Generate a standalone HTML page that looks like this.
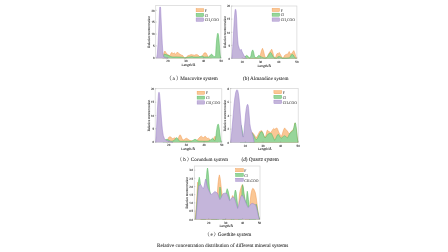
<!DOCTYPE html>
<html><head><meta charset="utf-8"><title>Relative concentration distribution of different mineral systems</title>
<style>
html,body{margin:0;padding:0;background:#fff;}
body{width:448px;height:252px;overflow:hidden;}
svg{display:block;}
text{font-family:"Liberation Serif","Noto Serif CJK SC",serif;fill:#222;text-rendering:geometricPrecision;}
.tk{font-size:32px;fill:#222;stroke:#222;stroke-width:0.7px;}
.yl{font-size:35px;fill:#222;stroke:#222;stroke-width:0.6px;}
.al{font-size:36px;fill:#222;stroke:#222;stroke-width:0.6px;}
.lg{font-size:38px;fill:#2a2a2a;stroke:#2a2a2a;stroke-width:0.3px;}
.cp{fill:#1a1a1a;stroke:#1a1a1a;stroke-width:0.5px;}
</style></head><body>
<svg width="448" height="252" viewBox="0 0 448 252">
<rect width="448" height="252" fill="#fff"/>
<polygon points="162.5,58.2 162.5,58.2 163.5,54.5 164.3,51.8 164.9,51.0 165.6,52.0 166.5,53.5 167.4,54.2 168.6,55.0 169.9,55.6 170.5,54.5 171.0,53.1 172.1,52.4 173.1,53.9 174.2,52.8 175.6,54.2 176.6,53.0 177.4,52.1 178.2,52.9 178.9,53.5 180.0,54.2 181.0,54.9 182.8,55.6 183.9,57.4 184.8,58.0 185.6,57.8 186.7,56.7 188.1,55.6 189.5,55.2 191.1,54.6 192.9,54.9 194.5,55.2 196.1,54.6 197.9,54.9 199.0,56.0 200.0,57.0 201.5,56.7 202.9,54.9 204.0,53.1 205.1,52.7 206.1,53.1 207.2,54.9 207.9,56.7 208.6,57.6 209.4,56.4 210.0,55.6 210.6,56.6 211.2,58.2 211.2,58.2" fill="#fac795" fill-opacity="1.0"/><polyline points="162.5,58.2 163.5,54.5 164.3,51.8 164.9,51.0 165.6,52.0 166.5,53.5 167.4,54.2 168.6,55.0 169.9,55.6 170.5,54.5 171.0,53.1 172.1,52.4 173.1,53.9 174.2,52.8 175.6,54.2 176.6,53.0 177.4,52.1 178.2,52.9 178.9,53.5 180.0,54.2 181.0,54.9 182.8,55.6 183.9,57.4 184.8,58.0 185.6,57.8 186.7,56.7 188.1,55.6 189.5,55.2 191.1,54.6 192.9,54.9 194.5,55.2 196.1,54.6 197.9,54.9 199.0,56.0 200.0,57.0 201.5,56.7 202.9,54.9 204.0,53.1 205.1,52.7 206.1,53.1 207.2,54.9 207.9,56.7 208.6,57.6 209.4,56.4 210.0,55.6 210.6,56.6 211.2,58.2" fill="none" stroke="#f19d55" stroke-width="0.55" stroke-linejoin="round" stroke-opacity="0.95"/>
<polygon points="163.0,58.2 163.0,58.2 163.6,55.5 164.2,54.2 166.0,54.6 168.1,55.3 170.3,56.4 172.0,56.9 174.0,57.0 176.0,56.9 178.0,57.0 180.0,57.1 182.0,57.2 184.0,57.7 185.5,57.8 187.0,57.3 189.0,57.0 191.0,56.8 192.0,56.6 193.5,57.0 196.0,57.1 198.5,57.0 200.5,56.6 201.9,56.0 203.0,56.6 204.5,57.1 206.5,56.9 208.5,57.0 209.7,56.2 210.6,55.0 211.5,54.0 212.4,54.8 213.6,56.4 214.8,56.8 215.6,55.5 216.0,48.0 216.7,39.0 217.4,34.0 217.9,33.2 218.4,34.5 219.0,40.0 219.7,49.0 220.2,55.0 220.7,58.2 220.7,58.2" fill="#97d59a" fill-opacity="1.0"/><polyline points="163.0,58.2 163.6,55.5 164.2,54.2 166.0,54.6 168.1,55.3 170.3,56.4 172.0,56.9 174.0,57.0 176.0,56.9 178.0,57.0 180.0,57.1 182.0,57.2 184.0,57.7 185.5,57.8 187.0,57.3 189.0,57.0 191.0,56.8 192.0,56.6 193.5,57.0 196.0,57.1 198.5,57.0 200.5,56.6 201.9,56.0 203.0,56.6 204.5,57.1 206.5,56.9 208.5,57.0 209.7,56.2 210.6,55.0 211.5,54.0 212.4,54.8 213.6,56.4 214.8,56.8 215.6,55.5 216.0,48.0 216.7,39.0 217.4,34.0 217.9,33.2 218.4,34.5 219.0,40.0 219.7,49.0 220.2,55.0 220.7,58.2" fill="none" stroke="#55ba60" stroke-width="0.55" stroke-linejoin="round" stroke-opacity="0.95"/>
<polygon points="156.6,58.2 156.6,58.2 157.3,54.0 158.0,44.0 158.7,30.0 159.3,16.0 159.7,8.0 159.9,7.0 160.3,7.0 160.6,8.0 161.0,17.0 161.6,30.0 162.3,44.0 163.0,54.0 163.8,57.0 165.0,57.6 168.0,58.2 168.0,58.2" fill="#c4b5da" fill-opacity="1.0"/><polyline points="156.6,58.2 157.3,54.0 158.0,44.0 158.7,30.0 159.3,16.0 159.7,8.0 159.9,7.0 160.3,7.0 160.6,8.0 161.0,17.0 161.6,30.0 162.3,44.0 163.0,54.0 163.8,57.0 165.0,57.6 168.0,58.2" fill="none" stroke="#9d82ca" stroke-width="0.55" stroke-linejoin="round" stroke-opacity="0.95"/>
<rect x="155.7" y="5.4" width="65.2" height="52.8" fill="none" stroke="#000" stroke-opacity="0.17" stroke-width="0.7"/>
<line x1="155.7" y1="10.3" x2="156.7" y2="10.3" stroke="#888" stroke-width="0.4"/>
<line x1="155.7" y1="22.0" x2="156.7" y2="22.0" stroke="#888" stroke-width="0.4"/>
<line x1="155.7" y1="34.1" x2="156.7" y2="34.1" stroke="#888" stroke-width="0.4"/>
<line x1="155.7" y1="45.9" x2="156.7" y2="45.9" stroke="#888" stroke-width="0.4"/>
<line x1="155.7" y1="57.8" x2="156.7" y2="57.8" stroke="#888" stroke-width="0.4"/>
<line x1="167.9" y1="58.2" x2="167.9" y2="57.2" stroke="#888" stroke-width="0.4"/>
<line x1="185.9" y1="58.2" x2="185.9" y2="57.2" stroke="#888" stroke-width="0.4"/>
<line x1="203.6" y1="58.2" x2="203.6" y2="57.2" stroke="#888" stroke-width="0.4"/>
<line x1="220.9" y1="58.2" x2="220.9" y2="57.2" stroke="#888" stroke-width="0.4"/>
<text transform="translate(154.60,11.55) scale(0.1)" text-anchor="end" class="tk">20</text>
<text transform="translate(154.60,23.25) scale(0.1)" text-anchor="end" class="tk">15</text>
<text transform="translate(154.60,35.35) scale(0.1)" text-anchor="end" class="tk">10</text>
<text transform="translate(154.60,47.15) scale(0.1)" text-anchor="end" class="tk">5</text>
<text transform="translate(154.60,59.05) scale(0.1)" text-anchor="end" class="tk">0</text>
<text transform="translate(167.90,62.40) scale(0.1)" text-anchor="middle" class="tk">20</text>
<text transform="translate(185.90,62.40) scale(0.1)" text-anchor="middle" class="tk">30</text>
<text transform="translate(203.60,62.40) scale(0.1)" text-anchor="middle" class="tk">40</text>
<text transform="translate(221.20,62.40) scale(0.1)" text-anchor="middle" class="tk">50</text>
<text transform="translate(188.40,65.90) scale(0.1)" text-anchor="middle" class="al">Length/Å</text>
<text transform="translate(150.20,31.90) rotate(-90) scale(0.1)" text-anchor="middle" class="yl">Relative concentration</text>
<rect x="196.1" y="8.6" width="7.6" height="3.2" fill="#fac795" stroke="#f19d55" stroke-width="0.4"/>
<text transform="translate(204.80,11.90) scale(0.1)" text-anchor="start" class="lg">F<tspan dy="-10" font-size="20">-</tspan></text>
<rect x="196.1" y="13.3" width="7.6" height="3.3" fill="#97d59a" stroke="#55ba60" stroke-width="0.4"/>
<text transform="translate(204.80,16.65) scale(0.1)" text-anchor="start" class="lg">Cl<tspan dy="-10" font-size="20">-</tspan></text>
<rect x="196.1" y="17.9" width="7.6" height="3.4" fill="#c4b5da" stroke="#9d82ca" stroke-width="0.4"/>
<text transform="translate(204.80,21.30) scale(0.1)" text-anchor="start" class="lg">CH<tspan dy="7" font-size="20">3</tspan><tspan dy="-7">COO</tspan><tspan dy="-10" font-size="20">-</tspan></text>
<polygon points="243.0,58.4 243.0,58.4 245.0,56.8 247.0,56.0 248.5,57.5 250.0,58.4 255.2,58.4 256.0,57.1 256.8,58.4 259.3,58.4 260.3,55.0 261.5,50.5 262.5,48.3 263.5,51.0 264.6,55.5 265.6,58.2 266.8,57.8 268.0,55.0 269.5,52.5 270.8,50.5 271.7,49.2 272.6,51.5 273.6,55.5 274.6,58.2 275.6,57.5 276.5,54.5 277.5,53.2 278.3,54.2 279.2,52.4 280.0,53.8 281.0,55.5 282.2,58.0 283.5,57.8 284.5,55.5 286.0,54.4 287.5,54.2 288.4,53.0 289.2,51.5 290.0,53.5 291.0,54.2 292.4,52.5 293.8,50.6 294.8,53.0 295.8,56.5 296.6,58.4 296.6,58.4" fill="#fac795" fill-opacity="1.0"/><polyline points="243.0,58.4 245.0,56.8 247.0,56.0 248.5,57.5 250.0,58.4 255.2,58.4 256.0,57.1 256.8,58.4 259.3,58.4 260.3,55.0 261.5,50.5 262.5,48.3 263.5,51.0 264.6,55.5 265.6,58.2 266.8,57.8 268.0,55.0 269.5,52.5 270.8,50.5 271.7,49.2 272.6,51.5 273.6,55.5 274.6,58.2 275.6,57.5 276.5,54.5 277.5,53.2 278.3,54.2 279.2,52.4 280.0,53.8 281.0,55.5 282.2,58.0 283.5,57.8 284.5,55.5 286.0,54.4 287.5,54.2 288.4,53.0 289.2,51.5 290.0,53.5 291.0,54.2 292.4,52.5 293.8,50.6 294.8,53.0 295.8,56.5 296.6,58.4" fill="none" stroke="#f19d55" stroke-width="0.55" stroke-linejoin="round" stroke-opacity="0.95"/>
<polygon points="244.0,58.4 244.0,58.4 245.2,56.5 246.5,55.4 247.8,56.0 249.0,57.9 250.3,57.6 251.0,55.5 251.8,51.5 252.7,49.9 253.5,51.5 254.2,55.0 254.9,57.6 256.5,57.9 257.6,56.4 258.9,55.3 260.0,56.2 261.4,56.9 263.0,57.7 265.0,58.0 267.0,57.5 268.3,55.5 269.5,53.4 270.5,52.4 271.5,53.5 272.8,56.0 274.0,57.8 276.5,58.0 278.0,56.8 279.2,56.4 280.5,57.0 282.0,58.0 286.0,58.1 289.6,57.8 290.6,56.0 291.6,54.6 292.4,54.3 293.3,55.0 294.3,56.8 295.3,58.0 296.5,58.4 296.5,58.4" fill="#97d59a" fill-opacity="1.0"/><polyline points="244.0,58.4 245.2,56.5 246.5,55.4 247.8,56.0 249.0,57.9 250.3,57.6 251.0,55.5 251.8,51.5 252.7,49.9 253.5,51.5 254.2,55.0 254.9,57.6 256.5,57.9 257.6,56.4 258.9,55.3 260.0,56.2 261.4,56.9 263.0,57.7 265.0,58.0 267.0,57.5 268.3,55.5 269.5,53.4 270.5,52.4 271.5,53.5 272.8,56.0 274.0,57.8 276.5,58.0 278.0,56.8 279.2,56.4 280.5,57.0 282.0,58.0 286.0,58.1 289.6,57.8 290.6,56.0 291.6,54.6 292.4,54.3 293.3,55.0 294.3,56.8 295.3,58.0 296.5,58.4" fill="none" stroke="#55ba60" stroke-width="0.55" stroke-linejoin="round" stroke-opacity="0.95"/>
<polygon points="231.8,58.4 231.8,58.4 232.4,52.0 233.0,43.0 233.7,30.0 234.4,18.0 235.0,11.0 235.3,9.4 235.7,9.4 236.1,11.0 236.6,18.0 237.0,27.0 237.4,36.0 238.2,45.1 239.4,48.8 240.3,50.4 241.2,49.3 242.2,52.0 243.2,54.0 244.0,55.6 245.4,57.5 246.5,58.4 246.5,58.4" fill="#c4b5da" fill-opacity="1.0"/><polyline points="231.8,58.4 232.4,52.0 233.0,43.0 233.7,30.0 234.4,18.0 235.0,11.0 235.3,9.4 235.7,9.4 236.1,11.0 236.6,18.0 237.0,27.0 237.4,36.0 238.2,45.1 239.4,48.8 240.3,50.4 241.2,49.3 242.2,52.0 243.2,54.0 244.0,55.6 245.4,57.5 246.5,58.4" fill="none" stroke="#9d82ca" stroke-width="0.55" stroke-linejoin="round" stroke-opacity="0.95"/>
<rect x="231.3" y="6.0" width="65.6" height="52.4" fill="none" stroke="#000" stroke-opacity="0.17" stroke-width="0.7"/>
<line x1="231.3" y1="6.0" x2="232.3" y2="6.0" stroke="#888" stroke-width="0.4"/>
<line x1="231.3" y1="19.1" x2="232.3" y2="19.1" stroke="#888" stroke-width="0.4"/>
<line x1="231.3" y1="32.3" x2="232.3" y2="32.3" stroke="#888" stroke-width="0.4"/>
<line x1="231.3" y1="45.4" x2="232.3" y2="45.4" stroke="#888" stroke-width="0.4"/>
<line x1="231.3" y1="58.4" x2="232.3" y2="58.4" stroke="#888" stroke-width="0.4"/>
<line x1="242.3" y1="58.4" x2="242.3" y2="57.4" stroke="#888" stroke-width="0.4"/>
<line x1="260.5" y1="58.4" x2="260.5" y2="57.4" stroke="#888" stroke-width="0.4"/>
<line x1="278.7" y1="58.4" x2="278.7" y2="57.4" stroke="#888" stroke-width="0.4"/>
<line x1="296.9" y1="58.4" x2="296.9" y2="57.4" stroke="#888" stroke-width="0.4"/>
<text transform="translate(230.20,7.15) scale(0.1)" text-anchor="end" class="tk">20</text>
<text transform="translate(230.20,20.35) scale(0.1)" text-anchor="end" class="tk">15</text>
<text transform="translate(230.20,33.55) scale(0.1)" text-anchor="end" class="tk">10</text>
<text transform="translate(230.20,46.65) scale(0.1)" text-anchor="end" class="tk">5</text>
<text transform="translate(230.20,59.65) scale(0.1)" text-anchor="end" class="tk">0</text>
<text transform="translate(242.30,63.40) scale(0.1)" text-anchor="middle" class="tk">20</text>
<text transform="translate(260.50,63.40) scale(0.1)" text-anchor="middle" class="tk">30</text>
<text transform="translate(278.70,63.40) scale(0.1)" text-anchor="middle" class="tk">40</text>
<text transform="translate(296.90,63.40) scale(0.1)" text-anchor="middle" class="tk">50</text>
<text transform="translate(264.30,67.00) scale(0.1)" text-anchor="middle" class="al">Length/Å</text>
<text transform="translate(225.80,31.90) rotate(-90) scale(0.1)" text-anchor="middle" class="yl">Relative concentration</text>
<rect x="272.1" y="8.3" width="7.5" height="3.3" fill="#fac795" stroke="#f19d55" stroke-width="0.4"/>
<text transform="translate(280.70,11.65) scale(0.1)" text-anchor="start" class="lg">F<tspan dy="-10" font-size="20">-</tspan></text>
<rect x="272.1" y="13.1" width="7.5" height="3.1" fill="#97d59a" stroke="#55ba60" stroke-width="0.4"/>
<text transform="translate(280.70,16.35) scale(0.1)" text-anchor="start" class="lg">Cl<tspan dy="-10" font-size="20">-</tspan></text>
<rect x="272.1" y="17.9" width="7.5" height="3.3" fill="#c4b5da" stroke="#9d82ca" stroke-width="0.4"/>
<text transform="translate(280.70,21.25) scale(0.1)" text-anchor="start" class="lg">CH<tspan dy="7" font-size="20">3</tspan><tspan dy="-7">COO</tspan><tspan dy="-10" font-size="20">-</tspan></text>
<polygon points="166.5,142.3 166.5,142.3 167.6,139.7 168.7,137.4 169.9,136.7 171.1,137.2 172.3,138.7 173.4,138.4 174.9,137.7 176.0,138.7 177.6,139.8 178.5,137.8 179.3,135.8 180.1,134.8 180.9,135.8 181.8,138.0 182.7,140.0 184.0,139.8 185.3,138.7 186.3,138.2 187.5,138.8 189.0,140.0 191.0,140.8 193.0,141.0 196.0,140.8 197.5,139.8 199.0,138.0 200.2,136.8 201.4,136.2 202.5,137.2 203.6,137.7 204.4,136.7 205.1,136.2 206.0,137.0 207.0,138.4 208.0,138.4 208.7,138.2 209.6,139.0 210.6,140.2 212.0,140.4 213.3,139.3 214.3,137.2 215.1,136.2 215.8,137.3 216.5,139.8 217.5,142.3 217.5,142.3" fill="#fac795" fill-opacity="1.0"/><polyline points="166.5,142.3 167.6,139.7 168.7,137.4 169.9,136.7 171.1,137.2 172.3,138.7 173.4,138.4 174.9,137.7 176.0,138.7 177.6,139.8 178.5,137.8 179.3,135.8 180.1,134.8 180.9,135.8 181.8,138.0 182.7,140.0 184.0,139.8 185.3,138.7 186.3,138.2 187.5,138.8 189.0,140.0 191.0,140.8 193.0,141.0 196.0,140.8 197.5,139.8 199.0,138.0 200.2,136.8 201.4,136.2 202.5,137.2 203.6,137.7 204.4,136.7 205.1,136.2 206.0,137.0 207.0,138.4 208.0,138.4 208.7,138.2 209.6,139.0 210.6,140.2 212.0,140.4 213.3,139.3 214.3,137.2 215.1,136.2 215.8,137.3 216.5,139.8 217.5,142.3" fill="none" stroke="#f19d55" stroke-width="0.55" stroke-linejoin="round" stroke-opacity="0.95"/>
<polygon points="163.5,142.3 163.5,142.3 164.6,140.6 165.6,139.6 167.0,139.4 168.4,139.8 170.0,141.0 172.0,141.2 174.0,140.6 175.6,138.6 176.7,137.5 177.7,138.6 178.7,140.4 180.0,141.2 182.0,141.3 184.0,141.2 186.0,141.3 188.0,141.2 190.0,141.3 192.0,141.0 193.6,140.0 195.0,139.2 196.2,139.8 197.5,140.8 199.0,141.2 202.0,141.2 205.0,141.3 208.0,141.2 210.0,140.6 211.4,139.2 212.4,138.3 213.3,139.0 214.3,140.6 215.2,140.4 215.8,137.0 216.5,131.0 217.2,126.5 217.8,124.4 218.2,124.1 218.7,125.0 219.3,129.0 220.0,135.0 220.7,139.6 221.4,142.3 221.4,142.3" fill="#97d59a" fill-opacity="1.0"/><polyline points="163.5,142.3 164.6,140.6 165.6,139.6 167.0,139.4 168.4,139.8 170.0,141.0 172.0,141.2 174.0,140.6 175.6,138.6 176.7,137.5 177.7,138.6 178.7,140.4 180.0,141.2 182.0,141.3 184.0,141.2 186.0,141.3 188.0,141.2 190.0,141.3 192.0,141.0 193.6,140.0 195.0,139.2 196.2,139.8 197.5,140.8 199.0,141.2 202.0,141.2 205.0,141.3 208.0,141.2 210.0,140.6 211.4,139.2 212.4,138.3 213.3,139.0 214.3,140.6 215.2,140.4 215.8,137.0 216.5,131.0 217.2,126.5 217.8,124.4 218.2,124.1 218.7,125.0 219.3,129.0 220.0,135.0 220.7,139.6 221.4,142.3" fill="none" stroke="#55ba60" stroke-width="0.55" stroke-linejoin="round" stroke-opacity="0.95"/>
<polygon points="155.7,142.3 155.7,142.3 156.2,135.0 156.8,123.0 157.4,110.0 158.0,100.0 158.5,93.5 158.8,92.4 159.2,92.4 159.5,93.5 160.1,100.0 160.8,110.0 161.6,121.0 162.4,130.0 163.3,135.5 164.4,138.6 165.8,140.2 167.5,141.0 170.0,141.6 173.0,142.3 173.0,142.3" fill="#c4b5da" fill-opacity="1.0"/><polyline points="155.7,142.3 156.2,135.0 156.8,123.0 157.4,110.0 158.0,100.0 158.5,93.5 158.8,92.4 159.2,92.4 159.5,93.5 160.1,100.0 160.8,110.0 161.6,121.0 162.4,130.0 163.3,135.5 164.4,138.6 165.8,140.2 167.5,141.0 170.0,141.6 173.0,142.3" fill="none" stroke="#9d82ca" stroke-width="0.55" stroke-linejoin="round" stroke-opacity="0.95"/>
<rect x="155.2" y="88.7" width="66.6" height="53.6" fill="none" stroke="#000" stroke-opacity="0.17" stroke-width="0.7"/>
<line x1="155.2" y1="88.8" x2="156.2" y2="88.8" stroke="#888" stroke-width="0.4"/>
<line x1="155.2" y1="102.2" x2="156.2" y2="102.2" stroke="#888" stroke-width="0.4"/>
<line x1="155.2" y1="115.6" x2="156.2" y2="115.6" stroke="#888" stroke-width="0.4"/>
<line x1="155.2" y1="128.8" x2="156.2" y2="128.8" stroke="#888" stroke-width="0.4"/>
<line x1="155.2" y1="142.2" x2="156.2" y2="142.2" stroke="#888" stroke-width="0.4"/>
<line x1="168.7" y1="142.3" x2="168.7" y2="141.3" stroke="#888" stroke-width="0.4"/>
<line x1="186.4" y1="142.3" x2="186.4" y2="141.3" stroke="#888" stroke-width="0.4"/>
<line x1="204.1" y1="142.3" x2="204.1" y2="141.3" stroke="#888" stroke-width="0.4"/>
<line x1="221.8" y1="142.3" x2="221.8" y2="141.3" stroke="#888" stroke-width="0.4"/>
<text transform="translate(154.10,90.05) scale(0.1)" text-anchor="end" class="tk">20</text>
<text transform="translate(154.10,103.45) scale(0.1)" text-anchor="end" class="tk">15</text>
<text transform="translate(154.10,116.85) scale(0.1)" text-anchor="end" class="tk">10</text>
<text transform="translate(154.10,130.05) scale(0.1)" text-anchor="end" class="tk">5</text>
<text transform="translate(154.10,143.45) scale(0.1)" text-anchor="end" class="tk">0</text>
<text transform="translate(168.70,146.10) scale(0.1)" text-anchor="middle" class="tk">20</text>
<text transform="translate(186.40,146.10) scale(0.1)" text-anchor="middle" class="tk">30</text>
<text transform="translate(204.10,146.10) scale(0.1)" text-anchor="middle" class="tk">40</text>
<text transform="translate(221.80,146.10) scale(0.1)" text-anchor="middle" class="tk">50</text>
<text transform="translate(188.10,149.90) scale(0.1)" text-anchor="middle" class="al">Length/Å</text>
<text transform="translate(149.70,115.50) rotate(-90) scale(0.1)" text-anchor="middle" class="yl">Relative concentration</text>
<rect x="197.1" y="91.2" width="7.6" height="3.1" fill="#fac795" stroke="#f19d55" stroke-width="0.4"/>
<text transform="translate(206.00,94.45) scale(0.1)" text-anchor="start" class="lg">F<tspan dy="-10" font-size="20">-</tspan></text>
<rect x="197.1" y="96.1" width="7.6" height="3.0" fill="#97d59a" stroke="#55ba60" stroke-width="0.4"/>
<text transform="translate(206.00,99.30) scale(0.1)" text-anchor="start" class="lg">Cl<tspan dy="-10" font-size="20">-</tspan></text>
<rect x="197.1" y="100.8" width="7.6" height="3.3" fill="#c4b5da" stroke="#9d82ca" stroke-width="0.4"/>
<text transform="translate(206.00,104.15) scale(0.1)" text-anchor="start" class="lg">CH<tspan dy="7" font-size="20">3</tspan><tspan dy="-7">COO</tspan><tspan dy="-10" font-size="20">-</tspan></text>
<polygon points="250.0,142.4 250.0,142.4 251.5,134.0 252.5,132.5 254.0,134.5 255.2,136.4 256.3,137.5 257.4,136.0 258.6,133.5 259.6,131.6 260.4,131.1 261.8,130.7 262.8,132.5 263.8,135.5 265.0,138.0 266.0,135.0 266.8,131.5 267.3,130.2 268.2,130.8 269.2,131.8 270.2,132.4 271.0,132.5 271.8,131.0 272.8,129.4 273.7,128.4 274.5,129.2 275.3,128.8 276.1,128.4 276.9,127.9 277.6,129.2 278.5,131.5 279.6,133.9 280.6,135.4 281.5,136.2 282.3,134.0 283.2,131.0 284.0,129.0 284.7,127.9 285.4,129.0 286.4,130.0 287.4,131.1 288.3,132.6 289.2,133.9 290.2,132.8 291.3,131.2 292.4,130.2 293.2,130.4 294.0,128.0 295.0,123.0 296.0,128.0 297.0,136.0 297.9,142.4 297.9,142.4" fill="#fac795" fill-opacity="1.0"/><polyline points="250.0,142.4 251.5,134.0 252.5,132.5 254.0,134.5 255.2,136.4 256.3,137.5 257.4,136.0 258.6,133.5 259.6,131.6 260.4,131.1 261.8,130.7 262.8,132.5 263.8,135.5 265.0,138.0 266.0,135.0 266.8,131.5 267.3,130.2 268.2,130.8 269.2,131.8 270.2,132.4 271.0,132.5 271.8,131.0 272.8,129.4 273.7,128.4 274.5,129.2 275.3,128.8 276.1,128.4 276.9,127.9 277.6,129.2 278.5,131.5 279.6,133.9 280.6,135.4 281.5,136.2 282.3,134.0 283.2,131.0 284.0,129.0 284.7,127.9 285.4,129.0 286.4,130.0 287.4,131.1 288.3,132.6 289.2,133.9 290.2,132.8 291.3,131.2 292.4,130.2 293.2,130.4 294.0,128.0 295.0,123.0 296.0,128.0 297.0,136.0 297.9,142.4" fill="none" stroke="#f19d55" stroke-width="0.55" stroke-linejoin="round" stroke-opacity="0.95"/>
<polygon points="240.5,142.4 240.5,142.4 240.8,125.0 241.5,126.5 242.3,131.0 243.1,136.0 244.0,137.5 246.0,140.0 250.0,141.0 251.6,135.5 252.2,133.0 253.2,134.6 254.4,136.8 255.4,138.8 256.3,139.8 257.4,138.6 258.6,136.0 259.8,133.6 260.9,132.0 261.8,131.6 262.8,133.0 263.8,135.6 265.0,138.0 265.8,137.2 267.0,135.4 268.2,134.0 269.1,133.4 270.3,133.6 271.4,133.4 272.4,135.4 273.5,138.0 274.6,140.3 275.6,138.8 276.8,136.2 277.6,134.8 278.3,134.3 279.2,135.4 280.2,137.2 281.0,138.4 282.0,137.6 283.4,136.4 284.7,135.7 285.6,136.2 286.6,137.4 287.4,138.0 288.4,136.2 289.4,134.0 290.1,133.0 291.2,132.0 292.4,131.1 293.2,130.2 293.9,127.4 294.6,124.0 295.2,122.7 295.8,124.5 296.5,130.0 297.2,137.0 297.9,142.4 297.9,142.4" fill="#97d59a" fill-opacity="1.0"/><polyline points="240.5,142.4 240.8,125.0 241.5,126.5 242.3,131.0 243.1,136.0 244.0,137.5 246.0,140.0 250.0,141.0 251.6,135.5 252.2,133.0 253.2,134.6 254.4,136.8 255.4,138.8 256.3,139.8 257.4,138.6 258.6,136.0 259.8,133.6 260.9,132.0 261.8,131.6 262.8,133.0 263.8,135.6 265.0,138.0 265.8,137.2 267.0,135.4 268.2,134.0 269.1,133.4 270.3,133.6 271.4,133.4 272.4,135.4 273.5,138.0 274.6,140.3 275.6,138.8 276.8,136.2 277.6,134.8 278.3,134.3 279.2,135.4 280.2,137.2 281.0,138.4 282.0,137.6 283.4,136.4 284.7,135.7 285.6,136.2 286.6,137.4 287.4,138.0 288.4,136.2 289.4,134.0 290.1,133.0 291.2,132.0 292.4,131.1 293.2,130.2 293.9,127.4 294.6,124.0 295.2,122.7 295.8,124.5 296.5,130.0 297.2,137.0 297.9,142.4" fill="none" stroke="#55ba60" stroke-width="0.55" stroke-linejoin="round" stroke-opacity="0.95"/>
<polygon points="230.6,142.4 230.6,142.4 231.2,138.0 231.9,130.0 232.6,122.0 233.3,114.0 234.0,105.0 234.8,98.0 235.7,92.5 236.5,90.2 237.1,89.7 237.7,90.4 238.4,93.5 239.1,99.0 239.7,106.0 240.3,114.0 240.9,121.0 241.5,127.0 242.1,132.0 242.6,135.5 243.1,137.1 243.6,135.5 244.2,130.0 244.9,122.0 245.6,114.0 246.3,108.5 247.0,105.2 247.6,104.3 248.1,105.2 248.6,108.5 249.2,116.0 249.8,123.5 250.5,128.0 251.4,131.0 252.3,133.6 253.0,136.0 253.6,139.0 254.2,142.4 254.2,142.4" fill="#c4b5da" fill-opacity="1.0"/><polyline points="230.6,142.4 231.2,138.0 231.9,130.0 232.6,122.0 233.3,114.0 234.0,105.0 234.8,98.0 235.7,92.5 236.5,90.2 237.1,89.7 237.7,90.4 238.4,93.5 239.1,99.0 239.7,106.0 240.3,114.0 240.9,121.0 241.5,127.0 242.1,132.0 242.6,135.5 243.1,137.1 243.6,135.5 244.2,130.0 244.9,122.0 245.6,114.0 246.3,108.5 247.0,105.2 247.6,104.3 248.1,105.2 248.6,108.5 249.2,116.0 249.8,123.5 250.5,128.0 251.4,131.0 252.3,133.6 253.0,136.0 253.6,139.0 254.2,142.4" fill="none" stroke="#9d82ca" stroke-width="0.55" stroke-linejoin="round" stroke-opacity="0.95"/>
<rect x="230.3" y="88.6" width="67.9" height="53.8" fill="none" stroke="#000" stroke-opacity="0.17" stroke-width="0.7"/>
<line x1="230.3" y1="88.6" x2="231.3" y2="88.6" stroke="#888" stroke-width="0.4"/>
<line x1="230.3" y1="102.2" x2="231.3" y2="102.2" stroke="#888" stroke-width="0.4"/>
<line x1="230.3" y1="115.6" x2="231.3" y2="115.6" stroke="#888" stroke-width="0.4"/>
<line x1="230.3" y1="129.1" x2="231.3" y2="129.1" stroke="#888" stroke-width="0.4"/>
<line x1="230.3" y1="142.4" x2="231.3" y2="142.4" stroke="#888" stroke-width="0.4"/>
<line x1="245.4" y1="142.4" x2="245.4" y2="141.4" stroke="#888" stroke-width="0.4"/>
<line x1="263.0" y1="142.4" x2="263.0" y2="141.4" stroke="#888" stroke-width="0.4"/>
<line x1="280.6" y1="142.4" x2="280.6" y2="141.4" stroke="#888" stroke-width="0.4"/>
<line x1="298.2" y1="142.4" x2="298.2" y2="141.4" stroke="#888" stroke-width="0.4"/>
<text transform="translate(229.20,89.85) scale(0.1)" text-anchor="end" class="tk">8</text>
<text transform="translate(229.20,103.45) scale(0.1)" text-anchor="end" class="tk">6</text>
<text transform="translate(229.20,116.85) scale(0.1)" text-anchor="end" class="tk">4</text>
<text transform="translate(229.20,130.35) scale(0.1)" text-anchor="end" class="tk">2</text>
<text transform="translate(229.20,143.85) scale(0.1)" text-anchor="end" class="tk">0</text>
<text transform="translate(245.40,146.60) scale(0.1)" text-anchor="middle" class="tk">20</text>
<text transform="translate(263.00,146.60) scale(0.1)" text-anchor="middle" class="tk">30</text>
<text transform="translate(280.60,146.60) scale(0.1)" text-anchor="middle" class="tk">40</text>
<text transform="translate(298.20,146.60) scale(0.1)" text-anchor="middle" class="tk">50</text>
<text transform="translate(264.80,150.40) scale(0.1)" text-anchor="middle" class="al">Length/Å</text>
<text transform="translate(225.90,115.50) rotate(-90) scale(0.1)" text-anchor="middle" class="yl">Relative concentration</text>
<rect x="273.9" y="90.6" width="7.8" height="3.2" fill="#fac795" stroke="#f19d55" stroke-width="0.4"/>
<text transform="translate(282.80,93.90) scale(0.1)" text-anchor="start" class="lg">F<tspan dy="-10" font-size="20">-</tspan></text>
<rect x="273.9" y="95.3" width="7.8" height="3.3" fill="#97d59a" stroke="#55ba60" stroke-width="0.4"/>
<text transform="translate(282.80,98.65) scale(0.1)" text-anchor="start" class="lg">Cl<tspan dy="-10" font-size="20">-</tspan></text>
<rect x="273.9" y="100.1" width="7.8" height="3.5" fill="#c4b5da" stroke="#9d82ca" stroke-width="0.4"/>
<text transform="translate(282.80,103.55) scale(0.1)" text-anchor="start" class="lg">CH<tspan dy="7" font-size="20">3</tspan><tspan dy="-7">COO</tspan><tspan dy="-10" font-size="20">-</tspan></text>
<polygon points="195.2,219.3 195.2,219.3 196.0,210.0 196.7,200.0 197.2,190.0 197.7,182.2 198.4,184.0 199.0,188.0 200.0,219.3 217.0,219.3 217.4,192.0 218.0,184.0 218.7,178.0 219.4,174.9 220.1,178.0 220.8,184.0 221.6,191.0 222.4,196.0 223.0,219.3 231.5,219.3 232.0,197.0 232.7,195.5 233.4,197.0 234.0,219.3 238.4,219.3 238.9,202.0 239.4,195.0 240.0,191.4 240.8,188.5 241.6,186.0 242.3,184.6 243.0,186.5 243.8,193.0 244.5,198.0 245.0,219.3 249.6,219.3 250.2,201.0 251.0,194.0 251.9,190.0 252.8,188.2 253.7,189.0 254.6,190.8 255.4,193.0 256.2,197.5 256.9,203.0 257.6,209.0 258.4,215.0 259.2,219.3 259.2,219.3" fill="#fac795" fill-opacity="1.0"/><polyline points="195.2,219.3 196.0,210.0 196.7,200.0 197.2,190.0 197.7,182.2 198.4,184.0 199.0,188.0 200.0,219.3 217.0,219.3 217.4,192.0 218.0,184.0 218.7,178.0 219.4,174.9 220.1,178.0 220.8,184.0 221.6,191.0 222.4,196.0 223.0,219.3 231.5,219.3 232.0,197.0 232.7,195.5 233.4,197.0 234.0,219.3 238.4,219.3 238.9,202.0 239.4,195.0 240.0,191.4 240.8,188.5 241.6,186.0 242.3,184.6 243.0,186.5 243.8,193.0 244.5,198.0 245.0,219.3 249.6,219.3 250.2,201.0 251.0,194.0 251.9,190.0 252.8,188.2 253.7,189.0 254.6,190.8 255.4,193.0 256.2,197.5 256.9,203.0 257.6,209.0 258.4,215.0 259.2,219.3" fill="none" stroke="#f19d55" stroke-width="0.55" stroke-linejoin="round" stroke-opacity="0.95"/>
<polygon points="195.6,219.3 195.6,219.3 196.4,210.0 197.1,200.0 197.8,190.0 198.5,181.0 199.3,177.2 199.9,180.0 200.5,185.0 201.5,219.3 205.5,219.3 206.0,184.0 206.5,176.0 207.0,170.5 207.5,168.0 208.0,170.5 208.5,176.0 209.0,183.0 209.6,190.0 210.5,194.0 211.5,219.3 218.6,219.3 219.0,196.0 219.5,190.0 220.0,187.0 220.6,190.0 221.2,196.0 221.8,199.5 222.5,219.3 225.5,219.3 226.0,194.0 226.6,190.5 227.2,188.7 228.1,191.0 229.0,195.0 229.9,199.5 230.6,201.0 231.2,219.3 234.0,219.3 234.4,196.0 234.9,191.5 235.4,190.0 236.1,192.0 236.8,198.0 237.5,204.0 238.1,208.4 238.6,219.3 241.5,219.3 242.0,189.0 242.6,184.7 243.3,187.5 243.9,193.0 244.5,196.4 245.2,200.0 246.0,203.5 246.6,199.0 246.9,193.5 247.3,191.2 247.8,193.8 248.4,199.5 249.0,203.5 249.4,219.3 255.5,219.3 256.0,204.0 256.8,206.0 257.6,210.0 258.5,215.0 259.5,219.3 259.5,219.3" fill="#97d59a" fill-opacity="1.0"/><polyline points="195.6,219.3 196.4,210.0 197.1,200.0 197.8,190.0 198.5,181.0 199.3,177.2 199.9,180.0 200.5,185.0 201.5,219.3 205.5,219.3 206.0,184.0 206.5,176.0 207.0,170.5 207.5,168.0 208.0,170.5 208.5,176.0 209.0,183.0 209.6,190.0 210.5,194.0 211.5,219.3 218.6,219.3 219.0,196.0 219.5,190.0 220.0,187.0 220.6,190.0 221.2,196.0 221.8,199.5 222.5,219.3 225.5,219.3 226.0,194.0 226.6,190.5 227.2,188.7 228.1,191.0 229.0,195.0 229.9,199.5 230.6,201.0 231.2,219.3 234.0,219.3 234.4,196.0 234.9,191.5 235.4,190.0 236.1,192.0 236.8,198.0 237.5,204.0 238.1,208.4 238.6,219.3 241.5,219.3 242.0,189.0 242.6,184.7 243.3,187.5 243.9,193.0 244.5,196.4 245.2,200.0 246.0,203.5 246.6,199.0 246.9,193.5 247.3,191.2 247.8,193.8 248.4,199.5 249.0,203.5 249.4,219.3 255.5,219.3 256.0,204.0 256.8,206.0 257.6,210.0 258.5,215.0 259.5,219.3" fill="none" stroke="#55ba60" stroke-width="0.55" stroke-linejoin="round" stroke-opacity="0.95"/>
<polygon points="195.9,219.3 195.9,219.3 196.7,210.0 197.5,200.0 198.1,192.0 198.8,186.0 199.8,185.0 200.7,184.5 201.5,186.0 202.5,187.8 203.4,188.7 204.2,186.0 205.0,181.5 205.7,179.0 206.4,181.5 207.0,185.5 208.0,188.5 208.9,190.5 209.8,192.6 210.7,194.2 211.6,194.2 212.5,193.7 213.6,192.6 214.8,191.4 216.0,192.2 217.1,192.8 218.0,194.5 219.0,197.5 219.9,199.6 220.8,198.2 221.8,196.0 223.0,193.7 224.5,193.2 226.2,193.2 227.3,194.5 228.4,197.5 229.5,200.6 230.5,200.0 231.6,198.0 233.1,196.9 234.5,198.5 235.6,201.5 236.6,205.0 237.7,208.4 238.6,205.5 239.6,201.0 240.6,197.2 241.4,195.5 242.3,195.4 243.4,197.0 244.6,199.6 245.8,202.6 247.0,205.4 248.2,207.5 249.2,206.4 250.4,204.6 251.6,203.6 252.8,203.4 254.2,204.2 255.5,204.8 256.4,207.0 257.3,211.0 258.2,215.2 259.2,219.3 259.2,219.3" fill="#c4b5da" fill-opacity="1.0"/><polyline points="195.9,219.3 196.7,210.0 197.5,200.0 198.1,192.0 198.8,186.0 199.8,185.0 200.7,184.5 201.5,186.0 202.5,187.8 203.4,188.7 204.2,186.0 205.0,181.5 205.7,179.0 206.4,181.5 207.0,185.5 208.0,188.5 208.9,190.5 209.8,192.6 210.7,194.2 211.6,194.2 212.5,193.7 213.6,192.6 214.8,191.4 216.0,192.2 217.1,192.8 218.0,194.5 219.0,197.5 219.9,199.6 220.8,198.2 221.8,196.0 223.0,193.7 224.5,193.2 226.2,193.2 227.3,194.5 228.4,197.5 229.5,200.6 230.5,200.0 231.6,198.0 233.1,196.9 234.5,198.5 235.6,201.5 236.6,205.0 237.7,208.4 238.6,205.5 239.6,201.0 240.6,197.2 241.4,195.5 242.3,195.4 243.4,197.0 244.6,199.6 245.8,202.6 247.0,205.4 248.2,207.5 249.2,206.4 250.4,204.6 251.6,203.6 252.8,203.4 254.2,204.2 255.5,204.8 256.4,207.0 257.3,211.0 258.2,215.2 259.2,219.3" fill="none" stroke="#9d82ca" stroke-width="0.55" stroke-linejoin="round" stroke-opacity="0.95"/>
<rect x="194.3" y="166.0" width="65.7" height="53.3" fill="none" stroke="#000" stroke-opacity="0.17" stroke-width="0.7"/>
<line x1="194.3" y1="170.2" x2="195.3" y2="170.2" stroke="#888" stroke-width="0.4"/>
<line x1="194.3" y1="178.3" x2="195.3" y2="178.3" stroke="#888" stroke-width="0.4"/>
<line x1="194.3" y1="186.5" x2="195.3" y2="186.5" stroke="#888" stroke-width="0.4"/>
<line x1="194.3" y1="194.7" x2="195.3" y2="194.7" stroke="#888" stroke-width="0.4"/>
<line x1="194.3" y1="202.9" x2="195.3" y2="202.9" stroke="#888" stroke-width="0.4"/>
<line x1="194.3" y1="211.1" x2="195.3" y2="211.1" stroke="#888" stroke-width="0.4"/>
<line x1="194.3" y1="219.3" x2="195.3" y2="219.3" stroke="#888" stroke-width="0.4"/>
<line x1="208.7" y1="219.3" x2="208.7" y2="218.3" stroke="#888" stroke-width="0.4"/>
<line x1="225.7" y1="219.3" x2="225.7" y2="218.3" stroke="#888" stroke-width="0.4"/>
<line x1="242.6" y1="219.3" x2="242.6" y2="218.3" stroke="#888" stroke-width="0.4"/>
<line x1="259.5" y1="219.3" x2="259.5" y2="218.3" stroke="#888" stroke-width="0.4"/>
<text transform="translate(193.20,171.45) scale(0.1)" text-anchor="end" class="tk">3.0</text>
<text transform="translate(193.20,179.55) scale(0.1)" text-anchor="end" class="tk">2.5</text>
<text transform="translate(193.20,187.75) scale(0.1)" text-anchor="end" class="tk">2.0</text>
<text transform="translate(193.20,195.95) scale(0.1)" text-anchor="end" class="tk">1.5</text>
<text transform="translate(193.20,204.15) scale(0.1)" text-anchor="end" class="tk">1.0</text>
<text transform="translate(193.20,212.35) scale(0.1)" text-anchor="end" class="tk">0.5</text>
<text transform="translate(193.20,220.55) scale(0.1)" text-anchor="end" class="tk">0.0</text>
<text transform="translate(208.70,224.00) scale(0.1)" text-anchor="middle" class="tk">20</text>
<text transform="translate(225.70,224.00) scale(0.1)" text-anchor="middle" class="tk">30</text>
<text transform="translate(242.60,224.00) scale(0.1)" text-anchor="middle" class="tk">40</text>
<text transform="translate(259.50,224.00) scale(0.1)" text-anchor="middle" class="tk">50</text>
<text transform="translate(226.30,227.10) scale(0.1)" text-anchor="middle" class="al">Length/Å</text>
<text transform="translate(187.70,192.80) rotate(-90) scale(0.1)" text-anchor="middle" class="yl">Relative concentration</text>
<rect x="235.6" y="168.5" width="7.8" height="3.3" fill="#fac795" stroke="#f19d55" stroke-width="0.4"/>
<text transform="translate(244.30,171.85) scale(0.1)" text-anchor="start" class="lg">F<tspan dy="-10" font-size="20">-</tspan></text>
<rect x="235.6" y="173.3" width="7.8" height="3.2" fill="#97d59a" stroke="#55ba60" stroke-width="0.4"/>
<text transform="translate(244.30,176.60) scale(0.1)" text-anchor="start" class="lg">Cl<tspan dy="-10" font-size="20">-</tspan></text>
<rect x="235.6" y="178.2" width="7.8" height="3.2" fill="#c4b5da" stroke="#9d82ca" stroke-width="0.4"/>
<text transform="translate(244.30,181.50) scale(0.1)" text-anchor="start" class="lg">CH<tspan dy="7" font-size="20">3</tspan><tspan dy="-7">COO</tspan><tspan dy="-10" font-size="20">-</tspan></text>
<text transform="translate(166.40,80.15) scale(0.1)" font-size="51.7" class="cp"><tspan x="0.0">（</tspan><tspan x="62.0">a</tspan><tspan x="97.0">）</tspan><tspan x="138.5">Muscovite system</tspan></text>
<text transform="translate(243.10,80.45) scale(0.1)" font-size="51.4" class="cp"><tspan x="0.0">(b) Almandine system</tspan></text>
<text transform="translate(177.10,161.45) scale(0.1)" font-size="50.9" class="cp"><tspan x="0.0">（</tspan><tspan x="61.0">b</tspan><tspan x="97.0">）</tspan><tspan x="137.0">Corundum system</tspan></text>
<text transform="translate(241.40,161.35) scale(0.1)" font-size="52.3" class="cp"><tspan x="0.0">(<tspan font-style="italic">d</tspan>) Quartz system</tspan></text>
<text transform="translate(204.60,236.45) scale(0.1)" font-size="51.6" class="cp"><tspan x="0.0">（</tspan><tspan x="59.0">e</tspan><tspan x="90.0">）</tspan><tspan x="132.0">Goethite system</tspan></text>
<text transform="translate(157.00,246.60) scale(0.1)" font-size="51.8" class="cp"><tspan x="0.0">Relative concentration distribution of different mineral systems</tspan></text>
</svg>
</body></html>
